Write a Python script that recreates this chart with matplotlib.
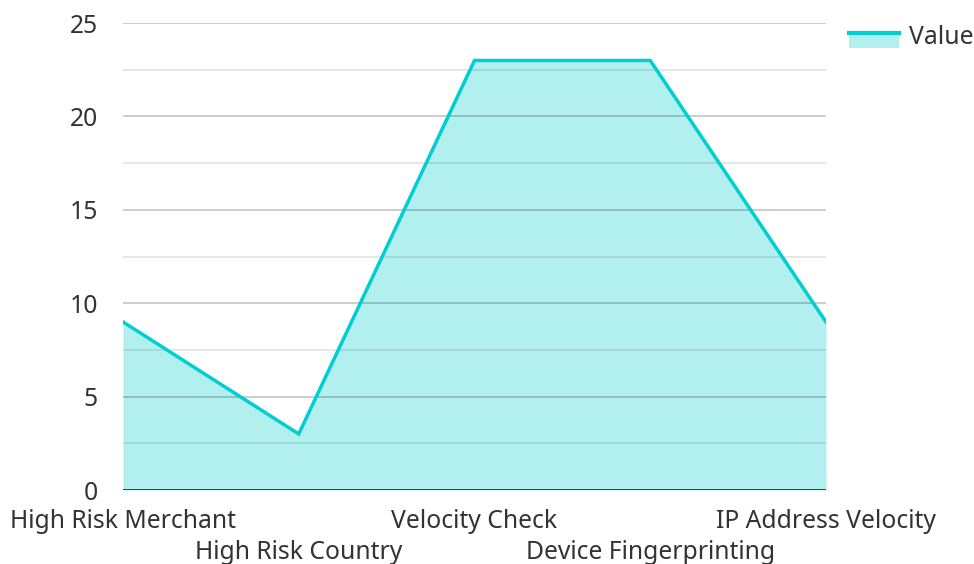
import matplotlib
matplotlib.use("Agg")
import matplotlib.pyplot as plt
from matplotlib.legend_handler import HandlerBase
from matplotlib.patches import Rectangle
from matplotlib.lines import Line2D

plt.rcParams['font.family'] = ['Noto Sans', 'DejaVu Sans']

categories = ["High Risk Merchant", "High Risk Country", "Velocity Check",
              "Device Fingerprinting", "IP Address Velocity"]
values = [9, 3, 23, 23, 9]
series_name = "Value"

line_color = "#00CED1"
fill_color = "#B2EFEF"
text_color = "#333333"
fs = 17.8


class AreaHandler(HandlerBase):
    # filled box with the line along its top edge, nudged down a bit
    def create_artists(self, legend, orig_handle, xdescent, ydescent,
                       width, height, fontsize, trans):
        y0 = -ydescent - 3.5
        rect = Rectangle((-xdescent, y0), width, height,
                         facecolor=fill_color, edgecolor="none", transform=trans)
        top = y0 + height
        line = Line2D([-xdescent, -xdescent + width], [top, top],
                      color=line_color, lw=3, transform=trans)
        return [rect, line]


fig = plt.figure(figsize=(9.74, 5.64), dpi=100)
ax = fig.add_axes([0.1263, 0.1312, 0.848 - 0.1263, 0.959 - 0.1312])

x = list(range(len(categories)))
ax.fill_between(x, values, 0, color=fill_color, lw=0, zorder=1)
ax.plot(x, values, color=line_color, lw=2.5, zorder=3, solid_joinstyle="miter")

ax.set_xlim(0, len(categories) - 1)
ax.set_ylim(0, 25)

# gridlines: major every 5, minor in between
for y in range(5, 26, 5):
    ax.axhline(y, color="black", lw=1.3, zorder=2, alpha=0.21)
for y in [2.5, 7.5, 12.5, 17.5, 22.5]:
    ax.axhline(y, color="black", lw=1.3, zorder=2, alpha=0.1)
ax.axhline(0, color="#333333", lw=2, zorder=4)

for s in ax.spines.values():
    s.set_visible(False)

ax.set_yticks(range(0, 26, 5))
ax.tick_params(axis="y", length=0, pad=18, labelsize=fs, labelcolor=text_color)
ax.set_xticks(x)
ax.set_xticklabels([])
ax.tick_params(axis="x", length=0)

for i, c in enumerate(categories):
    off = 0.067 if i % 2 == 0 else 0.134
    ax.text(i, -off, c, transform=ax.get_xaxis_transform(), ha="center", va="center",
            fontsize=fs, color=text_color)

handle = Rectangle((0, 0), 1, 1)
leg = fig.legend([handle], [series_name], handler_map={Rectangle: AreaHandler()},
                 loc="upper left", bbox_to_anchor=(0.872, 0.955), frameon=False,
                 fontsize=fs, handlelength=2.0, handleheight=0.58, handletextpad=0.4,
                 borderaxespad=0, borderpad=0)
for t in leg.get_texts():
    t.set_color(text_color)

fig.savefig("out.png", dpi=100, facecolor="white")
